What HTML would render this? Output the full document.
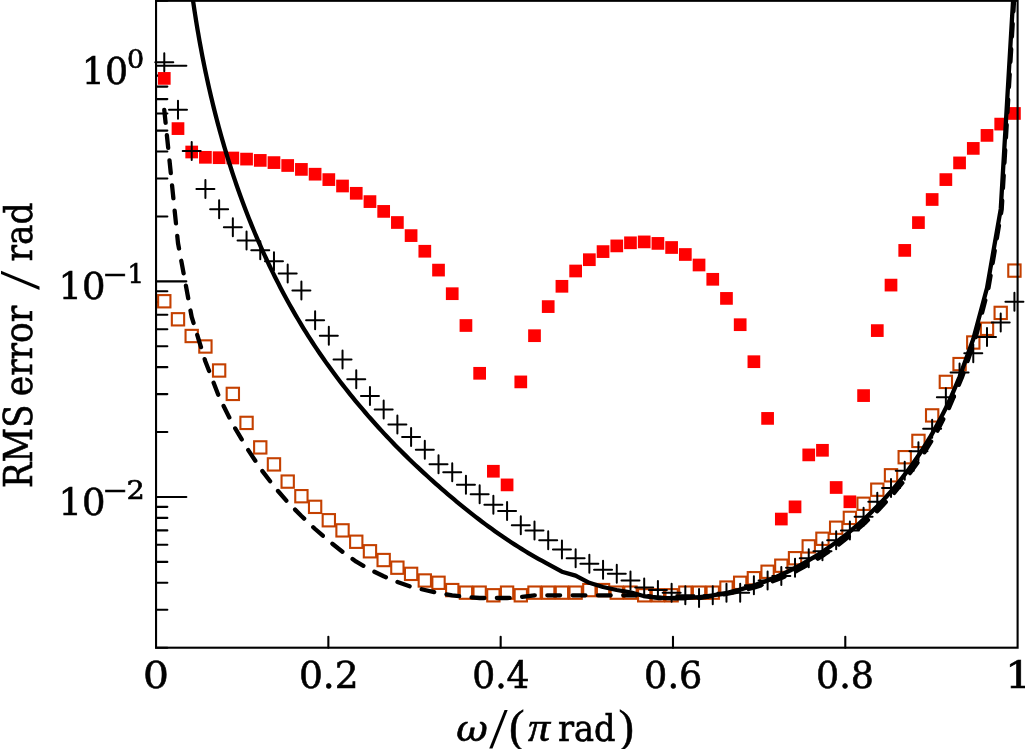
<!DOCTYPE html>
<html><head><meta charset="utf-8"><title>RMS error plot</title>
<style>html,body{margin:0;padding:0;background:#fff;overflow:hidden}svg{display:block}
text{fill:#000}</style></head><body>
<svg width="1025" height="749" viewBox="0 0 1025 749">
<rect width="1025" height="749" fill="#fff"/>
<defs><clipPath id="c"><rect x="156.05" y="0.8" width="861.55" height="646.9000000000001"/></clipPath></defs>
<g stroke="#000" stroke-width="2.1" stroke-linecap="round" fill="none">
<line x1="156.05" y1="65.71" x2="186.35" y2="65.71"/>
<line x1="156.05" y1="0.80" x2="167.35" y2="0.80"/>
<line x1="156.05" y1="281.35" x2="186.35" y2="281.35"/>
<line x1="156.05" y1="216.43" x2="167.35" y2="216.43"/>
<line x1="156.05" y1="178.46" x2="167.35" y2="178.46"/>
<line x1="156.05" y1="151.52" x2="167.35" y2="151.52"/>
<line x1="156.05" y1="130.62" x2="167.35" y2="130.62"/>
<line x1="156.05" y1="113.55" x2="167.35" y2="113.55"/>
<line x1="156.05" y1="99.11" x2="167.35" y2="99.11"/>
<line x1="156.05" y1="86.61" x2="167.35" y2="86.61"/>
<line x1="156.05" y1="75.58" x2="167.35" y2="75.58"/>
<line x1="156.05" y1="496.98" x2="186.35" y2="496.98"/>
<line x1="156.05" y1="432.07" x2="167.35" y2="432.07"/>
<line x1="156.05" y1="394.10" x2="167.35" y2="394.10"/>
<line x1="156.05" y1="367.15" x2="167.35" y2="367.15"/>
<line x1="156.05" y1="346.26" x2="167.35" y2="346.26"/>
<line x1="156.05" y1="329.18" x2="167.35" y2="329.18"/>
<line x1="156.05" y1="314.75" x2="167.35" y2="314.75"/>
<line x1="156.05" y1="302.24" x2="167.35" y2="302.24"/>
<line x1="156.05" y1="291.21" x2="167.35" y2="291.21"/>
<line x1="156.05" y1="647.70" x2="167.35" y2="647.70"/>
<line x1="156.05" y1="609.73" x2="167.35" y2="609.73"/>
<line x1="156.05" y1="582.79" x2="167.35" y2="582.79"/>
<line x1="156.05" y1="561.89" x2="167.35" y2="561.89"/>
<line x1="156.05" y1="544.82" x2="167.35" y2="544.82"/>
<line x1="156.05" y1="530.38" x2="167.35" y2="530.38"/>
<line x1="156.05" y1="517.88" x2="167.35" y2="517.88"/>
<line x1="156.05" y1="506.85" x2="167.35" y2="506.85"/>
<line x1="328.36" y1="647.7" x2="328.36" y2="636.70"/>
<line x1="500.67" y1="647.7" x2="500.67" y2="636.70"/>
<line x1="672.98" y1="647.7" x2="672.98" y2="636.70"/>
<line x1="845.29" y1="647.7" x2="845.29" y2="636.70"/>
</g>
<g fill="#ff0000">
<rect x="157.93" y="72.05" width="12.7" height="12.7"/>
<rect x="171.64" y="122.25" width="12.7" height="12.7"/>
<rect x="185.35" y="145.65" width="12.7" height="12.7"/>
<rect x="199.06" y="150.95" width="12.7" height="12.7"/>
<rect x="212.78" y="151.35" width="12.7" height="12.7"/>
<rect x="226.49" y="151.65" width="12.7" height="12.7"/>
<rect x="240.20" y="152.75" width="12.7" height="12.7"/>
<rect x="253.91" y="154.05" width="12.7" height="12.7"/>
<rect x="267.62" y="156.25" width="12.7" height="12.7"/>
<rect x="281.34" y="159.15" width="12.7" height="12.7"/>
<rect x="295.05" y="163.05" width="12.7" height="12.7"/>
<rect x="308.76" y="167.85" width="12.7" height="12.7"/>
<rect x="322.47" y="173.25" width="12.7" height="12.7"/>
<rect x="336.18" y="179.65" width="12.7" height="12.7"/>
<rect x="349.90" y="186.95" width="12.7" height="12.7"/>
<rect x="363.61" y="195.25" width="12.7" height="12.7"/>
<rect x="377.32" y="205.05" width="12.7" height="12.7"/>
<rect x="391.03" y="216.15" width="12.7" height="12.7"/>
<rect x="404.74" y="229.25" width="12.7" height="12.7"/>
<rect x="418.46" y="244.90" width="12.7" height="12.7"/>
<rect x="432.17" y="263.75" width="12.7" height="12.7"/>
<rect x="445.88" y="287.35" width="12.7" height="12.7"/>
<rect x="459.59" y="319.15" width="12.7" height="12.7"/>
<rect x="473.30" y="366.95" width="12.7" height="12.7"/>
<rect x="487.02" y="464.90" width="12.7" height="12.7"/>
<rect x="500.73" y="478.55" width="12.7" height="12.7"/>
<rect x="514.44" y="375.55" width="12.7" height="12.7"/>
<rect x="528.15" y="329.35" width="12.7" height="12.7"/>
<rect x="541.86" y="300.25" width="12.7" height="12.7"/>
<rect x="555.58" y="279.95" width="12.7" height="12.7"/>
<rect x="569.29" y="264.65" width="12.7" height="12.7"/>
<rect x="583.00" y="253.35" width="12.7" height="12.7"/>
<rect x="596.71" y="245.25" width="12.7" height="12.7"/>
<rect x="610.42" y="239.55" width="12.7" height="12.7"/>
<rect x="624.13" y="236.45" width="12.7" height="12.7"/>
<rect x="637.85" y="235.55" width="12.7" height="12.7"/>
<rect x="651.56" y="237.05" width="12.7" height="12.7"/>
<rect x="665.27" y="241.15" width="12.7" height="12.7"/>
<rect x="678.98" y="248.15" width="12.7" height="12.7"/>
<rect x="692.69" y="258.65" width="12.7" height="12.7"/>
<rect x="706.41" y="272.95" width="12.7" height="12.7"/>
<rect x="720.12" y="292.05" width="12.7" height="12.7"/>
<rect x="733.83" y="318.35" width="12.7" height="12.7"/>
<rect x="747.54" y="355.35" width="12.7" height="12.7"/>
<rect x="761.25" y="412.05" width="12.7" height="12.7"/>
<rect x="774.97" y="512.70" width="12.7" height="12.7"/>
<rect x="788.68" y="500.50" width="12.7" height="12.7"/>
<rect x="802.39" y="448.55" width="12.7" height="12.7"/>
<rect x="816.10" y="443.95" width="12.7" height="12.7"/>
<rect x="829.81" y="481.15" width="12.7" height="12.7"/>
<rect x="843.53" y="495.43" width="12.7" height="12.7"/>
<rect x="857.24" y="389.25" width="12.7" height="12.7"/>
<rect x="870.95" y="324.25" width="12.7" height="12.7"/>
<rect x="884.66" y="278.75" width="12.7" height="12.7"/>
<rect x="898.37" y="244.05" width="12.7" height="12.7"/>
<rect x="912.09" y="216.25" width="12.7" height="12.7"/>
<rect x="925.80" y="193.15" width="12.7" height="12.7"/>
<rect x="939.51" y="173.25" width="12.7" height="12.7"/>
<rect x="953.22" y="156.55" width="12.7" height="12.7"/>
<rect x="966.93" y="142.05" width="12.7" height="12.7"/>
<rect x="980.65" y="129.05" width="12.7" height="12.7"/>
<rect x="994.36" y="117.75" width="12.7" height="12.7"/>
<rect x="1008.07" y="107.10" width="12.7" height="12.7"/>
</g>
<g fill="#fff" stroke="#c44000" stroke-width="2.1">
<rect x="158.13" y="295.10" width="12.3" height="12.3"/>
<rect x="171.84" y="313.15" width="12.3" height="12.3"/>
<rect x="185.55" y="329.85" width="12.3" height="12.3"/>
<rect x="199.26" y="340.35" width="12.3" height="12.3"/>
<rect x="212.98" y="364.35" width="12.3" height="12.3"/>
<rect x="226.69" y="387.75" width="12.3" height="12.3"/>
<rect x="240.40" y="416.75" width="12.3" height="12.3"/>
<rect x="254.11" y="441.25" width="12.3" height="12.3"/>
<rect x="267.82" y="458.25" width="12.3" height="12.3"/>
<rect x="281.54" y="475.45" width="12.3" height="12.3"/>
<rect x="295.25" y="490.05" width="12.3" height="12.3"/>
<rect x="308.96" y="500.70" width="12.3" height="12.3"/>
<rect x="322.67" y="514.10" width="12.3" height="12.3"/>
<rect x="336.38" y="524.23" width="12.3" height="12.3"/>
<rect x="350.10" y="535.60" width="12.3" height="12.3"/>
<rect x="363.81" y="545.13" width="12.3" height="12.3"/>
<rect x="377.52" y="553.89" width="12.3" height="12.3"/>
<rect x="391.23" y="561.54" width="12.3" height="12.3"/>
<rect x="404.94" y="567.71" width="12.3" height="12.3"/>
<rect x="418.66" y="574.33" width="12.3" height="12.3"/>
<rect x="432.37" y="576.64" width="12.3" height="12.3"/>
<rect x="446.08" y="583.94" width="12.3" height="12.3"/>
<rect x="459.79" y="586.50" width="12.3" height="12.3"/>
<rect x="473.50" y="586.50" width="12.3" height="12.3"/>
<rect x="487.22" y="589.14" width="12.3" height="12.3"/>
<rect x="500.93" y="586.50" width="12.3" height="12.3"/>
<rect x="514.64" y="589.14" width="12.3" height="12.3"/>
<rect x="528.35" y="586.50" width="12.3" height="12.3"/>
<rect x="542.06" y="586.50" width="12.3" height="12.3"/>
<rect x="555.78" y="586.50" width="12.3" height="12.3"/>
<rect x="569.49" y="586.50" width="12.3" height="12.3"/>
<rect x="583.20" y="583.94" width="12.3" height="12.3"/>
<rect x="596.91" y="583.94" width="12.3" height="12.3"/>
<rect x="610.62" y="586.50" width="12.3" height="12.3"/>
<rect x="624.33" y="586.50" width="12.3" height="12.3"/>
<rect x="638.05" y="589.14" width="12.3" height="12.3"/>
<rect x="651.76" y="589.14" width="12.3" height="12.3"/>
<rect x="665.47" y="589.14" width="12.3" height="12.3"/>
<rect x="679.18" y="586.50" width="12.3" height="12.3"/>
<rect x="692.89" y="586.50" width="12.3" height="12.3"/>
<rect x="706.61" y="586.50" width="12.3" height="12.3"/>
<rect x="720.32" y="581.44" width="12.3" height="12.3"/>
<rect x="734.03" y="576.64" width="12.3" height="12.3"/>
<rect x="747.74" y="572.07" width="12.3" height="12.3"/>
<rect x="761.45" y="565.61" width="12.3" height="12.3"/>
<rect x="775.17" y="559.56" width="12.3" height="12.3"/>
<rect x="788.88" y="552.07" width="12.3" height="12.3"/>
<rect x="802.59" y="540.24" width="12.3" height="12.3"/>
<rect x="816.30" y="532.62" width="12.3" height="12.3"/>
<rect x="830.01" y="521.59" width="12.3" height="12.3"/>
<rect x="843.73" y="511.73" width="12.3" height="12.3"/>
<rect x="857.44" y="497.62" width="12.3" height="12.3"/>
<rect x="871.15" y="483.55" width="12.3" height="12.3"/>
<rect x="884.86" y="469.15" width="12.3" height="12.3"/>
<rect x="898.57" y="451.05" width="12.3" height="12.3"/>
<rect x="912.29" y="434.75" width="12.3" height="12.3"/>
<rect x="926.00" y="409.25" width="12.3" height="12.3"/>
<rect x="939.71" y="375.75" width="12.3" height="12.3"/>
<rect x="953.42" y="357.95" width="12.3" height="12.3"/>
<rect x="967.13" y="336.35" width="12.3" height="12.3"/>
<rect x="980.85" y="322.65" width="12.3" height="12.3"/>
<rect x="994.56" y="306.75" width="12.3" height="12.3"/>
<rect x="1008.27" y="264.45" width="12.3" height="12.3"/>
</g>
<path d="M155.28,62.15h18.0M164.28,53.15v18.0M168.99,109.70h18.0M177.99,100.70v18.0M182.70,151.10h18.0M191.70,142.10v18.0M196.41,189.00h18.0M205.41,180.00v18.0M210.13,209.30h18.0M219.13,200.30v18.0M223.84,227.30h18.0M232.84,218.30v18.0M237.55,240.50h18.0M246.55,231.50v18.0M251.26,250.30h18.0M260.26,241.30v18.0M264.97,261.25h18.0M273.97,252.25v18.0M278.69,273.40h18.0M287.69,264.40v18.0M292.40,290.60h18.0M301.40,281.60v18.0M306.11,320.30h18.0M315.11,311.30v18.0M319.82,335.80h18.0M328.82,326.80v18.0M333.53,359.40h18.0M342.53,350.40v18.0M347.25,379.20h18.0M356.25,370.20v18.0M360.96,396.10h18.0M369.96,387.10v18.0M374.67,409.50h18.0M383.67,400.50v18.0M388.38,424.40h18.0M397.38,415.40v18.0M402.09,437.00h18.0M411.09,428.00v18.0M415.81,449.70h18.0M424.81,440.70v18.0M429.52,464.20h18.0M438.52,455.20v18.0M443.23,472.30h18.0M452.23,463.30v18.0M456.94,484.80h18.0M465.94,475.80v18.0M470.65,494.20h18.0M479.65,485.20v18.0M484.37,504.79h18.0M493.37,495.79v18.0M498.08,511.10h18.0M507.08,502.10v18.0M511.79,525.18h18.0M520.79,516.18v18.0M525.50,530.38h18.0M534.50,521.38v18.0M539.21,540.25h18.0M548.21,531.25v18.0M552.93,549.62h18.0M561.93,540.62v18.0M566.64,558.22h18.0M575.64,549.22v18.0M580.35,563.78h18.0M589.35,554.78v18.0M594.06,569.70h18.0M603.06,560.70v18.0M607.77,573.86h18.0M616.77,564.86v18.0M621.48,580.48h18.0M630.48,571.48v18.0M635.20,587.59h18.0M644.20,578.59v18.0M648.91,590.09h18.0M657.91,581.09v18.0M662.62,592.65h18.0M671.62,583.65v18.0M676.33,595.29h18.0M685.33,586.29v18.0M690.04,598.01h18.0M699.04,589.01v18.0M703.76,595.29h18.0M712.76,586.29v18.0M717.47,592.65h18.0M726.47,583.65v18.0M731.18,592.65h18.0M740.18,583.65v18.0M744.89,585.16h18.0M753.89,576.16v18.0M758.60,580.48h18.0M767.60,571.48v18.0M772.32,576.02h18.0M781.32,567.02v18.0M786.03,567.69h18.0M795.03,558.69v18.0M799.74,558.22h18.0M808.74,549.22v18.0M813.45,551.28h18.0M822.45,542.28v18.0M827.16,540.25h18.0M836.16,531.25v18.0M840.88,530.38h18.0M849.88,521.38v18.0M854.59,516.71h18.0M863.59,507.71v18.0M868.30,501.78h18.0M877.30,492.78v18.0M882.01,488.00h18.0M891.01,479.00v18.0M895.72,470.80h18.0M904.72,461.80v18.0M909.44,451.25h18.0M918.44,442.25v18.0M923.15,428.75h18.0M932.15,419.75v18.0M936.86,397.30h18.0M945.86,388.30v18.0M950.57,372.50h18.0M959.57,363.50v18.0M964.28,353.30h18.0M973.28,344.30v18.0M978.00,336.90h18.0M987.00,327.90v18.0M991.71,322.60h18.0M1000.71,313.60v18.0M1005.42,301.80h18.0M1014.42,292.80v18.0" stroke="#000" stroke-width="2" stroke-linecap="round" fill="none"/>
<g clip-path="url(#c)" fill="none" stroke="#000" stroke-width="4.3" stroke-linejoin="round">
<path d="M164.28,110.00 L177.99,243.00 L191.70,317.00 L205.41,361.50 L219.13,397.00 L232.84,424.50 L246.55,447.50 L260.26,468.30 L273.97,486.30 L287.69,502.20 L301.40,516.00 L315.11,529.00 L328.82,541.00 L342.53,551.80 L356.25,561.70 L369.96,569.50 L383.67,576.30 L397.38,582.00 L411.09,586.70 L424.81,590.00 L438.52,593.00 L452.23,595.30 L465.94,597.00 L479.65,598.00 L493.37,598.00 L507.08,598.00 L520.79,597.00 L534.50,595.30 L548.21,595.30 L561.93,595.30 L575.64,595.30 L589.35,595.30 L603.06,595.30 L616.77,595.30 L630.48,595.30 L644.20,595.30 L657.91,598.00 L671.62,598.00 L685.33,598.00 L699.04,598.00 L712.86,596.04 L726.70,593.99 L740.61,591.12 L754.56,587.43 L768.55,582.87 L782.60,577.44 L796.61,570.94 L810.47,563.25 L824.33,554.58 L838.19,544.88 L852.03,534.08 L865.89,522.03 L879.73,508.62 L893.58,493.61 L907.42,476.70 L921.26,457.47 L935.03,435.31 L948.42,409.27 L961.80,377.73 L975.12,339.61 L988.41,288.31 L1001.70,209.33 L1015.40,-22.00" stroke-dasharray="12.8 12.5" stroke-linecap="round"/>
<path d="M192.66,-2.01 L193.22,1.93 L193.80,5.87 L194.39,9.81 L194.99,13.76 L195.60,17.70 L196.23,21.64 L196.88,25.58 L197.54,29.52 L198.21,33.45 L198.89,37.39 L199.59,41.33 L200.31,45.26 L201.04,49.19 L201.78,53.12 L202.54,57.05 L203.32,60.98 L204.10,64.90 L204.91,68.82 L205.73,72.74 L206.56,76.66 L207.41,80.57 L208.27,84.48 L209.15,88.39 L210.05,92.29 L210.96,96.20 L211.89,100.09 L212.83,103.99 L213.79,107.88 L214.76,111.77 L215.75,115.65 L216.76,119.53 L217.78,123.40 L218.82,127.27 L219.88,131.13 L220.95,134.99 L222.04,138.85 L223.14,142.70 L224.27,146.54 L225.41,150.38 L226.56,154.22 L227.74,158.05 L228.93,161.87 L230.13,165.69 L231.36,169.50 L232.60,173.30 L233.86,177.10 L235.14,180.89 L236.44,184.68 L237.75,188.45 L239.08,192.23 L240.43,195.99 L241.80,199.75 L243.19,203.50 L244.59,207.24 L246.02,210.97 L247.46,214.70 L248.92,218.42 L250.40,222.13 L251.89,225.83 L253.41,229.53 L254.95,233.22 L256.50,236.89 L258.08,240.56 L259.67,244.22 L261.28,247.87 L262.91,251.51 L264.56,255.15 L266.24,258.77 L267.93,262.38 L269.64,265.99 L271.37,269.58 L273.12,273.16 L274.89,276.74 L276.68,280.30 L278.49,283.85 L280.32,287.40 L282.17,290.93 L284.05,294.45 L285.94,297.96 L287.85,301.46 L289.79,304.94 L291.74,308.42 L293.72,311.88 L295.72,315.34 L297.74,318.78 L299.78,322.20 L301.84,325.62 L303.93,329.02 L306.03,332.42 L308.16,335.79 L310.31,339.16 L312.48,342.51 L314.67,345.85 L316.88,349.18 L319.12,352.50 L321.38,355.80 L323.66,359.08 L325.96,362.36 L328.29,365.61 L330.64,368.86 L333.00,372.09 L335.39,375.31 L337.80,378.51 L340.23,381.70 L342.68,384.87 L345.15,388.03 L347.64,391.18 L350.14,394.31 L352.66,397.42 L355.20,400.52 L357.76,403.60 L360.33,406.67 L362.92,409.73 L365.52,412.76 L368.14,415.79 L370.77,418.79 L373.42,421.78 L376.09,424.76 L378.77,427.72 L381.46,430.66 L384.17,433.59 L386.90,436.50 L389.64,439.39 L392.40,442.27 L395.17,445.13 L397.96,447.97 L400.76,450.79 L403.59,453.60 L406.42,456.40 L409.27,459.18 L412.14,461.94 L415.02,464.69 L417.92,467.42 L420.83,470.14 L423.76,472.84 L426.70,475.54 L429.65,478.22 L432.62,480.88 L435.60,483.54 L438.60,486.18 L441.61,488.81 L444.63,491.43 L447.67,494.03 L450.72,496.63 L453.78,499.21 L456.86,501.78 L459.95,504.33 L463.06,506.86 L466.18,509.38 L469.31,511.89 L472.46,514.37 L475.63,516.84 L478.81,519.28 L482.00,521.71 L485.21,524.11 L488.44,526.49 L491.68,528.85 L494.93,531.18 L498.21,533.49 L501.50,535.78 L504.80,538.04 L508.12,540.27 L511.46,542.47 L514.81,544.65 L518.19,546.80 L521.57,548.91 L524.98,551.00 L528.40,553.05 L531.84,555.07 L535.30,557.06 L538.78,559.02 L542.27,560.93 L545.79,562.82 L561.90,571.70 L575.60,575.60 L589.30,582.80 L603.00,587.00 L616.70,590.00 L630.40,592.30 L643.53,596.04 L647.50,596.55 L651.49,596.99 L655.49,597.37 L659.49,597.67 L663.50,597.91 L667.52,598.09 L671.53,598.19 L675.55,598.23 L679.57,598.20 L683.58,598.11 L687.58,597.95 L691.59,597.72 L695.58,597.43 L699.56,597.07 L703.53,596.64 L707.49,596.15 L711.43,595.60 L715.36,594.98 L719.28,594.30 L723.19,593.56 L727.07,592.75 L730.95,591.88 L734.81,590.95 L738.65,589.97 L742.48,588.92 L746.28,587.81 L750.08,586.65 L753.85,585.43 L757.61,584.15 L761.35,582.82 L765.07,581.43 L768.77,579.99 L772.45,578.49 L776.11,576.94 L779.75,575.34 L783.37,573.69 L786.96,571.98 L790.54,570.23 L794.09,568.42 L797.62,566.57 L801.13,564.67 L804.62,562.72 L808.08,560.72 L811.51,558.68 L814.93,556.59 L818.31,554.45 L821.67,552.27 L825.01,550.05 L828.32,547.78 L831.60,545.47 L834.85,543.12 L838.08,540.73 L841.28,538.30 L844.45,535.83 L847.59,533.32 L850.70,530.77 L853.79,528.18 L856.84,525.56 L859.86,522.90 L862.85,520.21 L865.81,517.48 L868.74,514.71 L871.64,511.91 L874.50,509.08 L877.33,506.22 L880.12,503.32 L882.89,500.39 L885.61,497.44 L888.31,494.45 L890.97,491.43 L893.59,488.39 L896.18,485.32 L898.73,482.22 L901.24,479.10 L903.71,475.94 L906.15,472.77 L908.56,469.57 L910.92,466.34 L913.25,463.10 L915.54,459.82 L917.80,456.53 L920.02,453.21 L922.21,449.87 L924.36,446.51 L926.47,443.13 L928.55,439.72 L930.60,436.30 L932.61,432.85 L934.59,429.39 L936.53,425.91 L938.44,422.40 L940.32,418.88 L942.17,415.35 L943.98,411.79 L945.76,408.22 L947.51,404.63 L949.22,401.02 L950.91,397.40 L959.60,376.80 L973.30,339.00 L987.00,288.00 L1000.75,209.00 L1014.40,-22.00"/>
</g>
<rect x="156.05" y="0.8" width="861.55" height="646.9000000000001" fill="none" stroke="#000" stroke-width="2.1"/>
<g stroke="#000">
<text transform="translate(142.97,688.20) scale(1.0821,1.0000)" font-family="'DejaVu Serif','Liberation Serif',serif" font-size="37.70" stroke-width="0.6">0</text>
<text transform="translate(298.96,688.20) scale(0.9972,1.0000)" font-family="'DejaVu Serif','Liberation Serif',serif" font-size="37.70" stroke-width="0.6">0.2</text>
<text transform="translate(472.14,688.20) scale(0.9589,1.0000)" font-family="'DejaVu Serif','Liberation Serif',serif" font-size="37.70" stroke-width="0.6">0.4</text>
<text transform="translate(644.11,688.20) scale(0.9712,1.0000)" font-family="'DejaVu Serif','Liberation Serif',serif" font-size="37.70" stroke-width="0.6">0.6</text>
<text transform="translate(816.02,688.20) scale(0.9694,1.0000)" font-family="'DejaVu Serif','Liberation Serif',serif" font-size="37.70" stroke-width="0.6">0.8</text>
<text transform="translate(1004.96,688.20) scale(1.1390,1.0000)" font-family="'DejaVu Serif','Liberation Serif',serif" font-size="37.70" stroke-width="0.6">1</text>
<text transform="translate(81.80,84.00) scale(0.9639,1.0000)" font-family="'DejaVu Serif','Liberation Serif',serif" font-size="37.70" stroke-width="0.6">10</text>
<text transform="translate(127.12,68.10) scale(1.0566,1.0000)" font-family="'DejaVu Serif','Liberation Serif',serif" font-size="25.50" stroke-width="0.6">0</text>
<text transform="translate(58.43,299.30) scale(0.9807,1.0000)" font-family="'DejaVu Serif','Liberation Serif',serif" font-size="37.70" stroke-width="0.6">10</text>
<text transform="translate(101.98,283.00) scale(1.2061,1.0000)" font-family="'DejaVu Serif','Liberation Serif',serif" font-size="25.50" stroke-width="0.6">−</text>
<text transform="translate(127.38,283.00) scale(1.0244,1.0000)" font-family="'DejaVu Serif','Liberation Serif',serif" font-size="25.50" stroke-width="0.6">1</text>
<text transform="translate(58.43,514.80) scale(0.9807,1.0000)" font-family="'DejaVu Serif','Liberation Serif',serif" font-size="37.70" stroke-width="0.6">10</text>
<text transform="translate(101.97,498.60) scale(1.2121,1.0000)" font-family="'DejaVu Serif','Liberation Serif',serif" font-size="25.50" stroke-width="0.6">−</text>
<text transform="translate(126.51,498.60) scale(1.1280,1.0000)" font-family="'DejaVu Serif','Liberation Serif',serif" font-size="25.50" stroke-width="0.6">2</text>
<text transform="translate(456.24,741.20) scale(1.0595,1.0000)" font-family="'DejaVu Serif','Liberation Serif',serif" font-style="italic" font-size="36.57" stroke-width="0.6">ω</text>
<text transform="translate(489.30,747.82) scale(1.7619,1.5200)" font-family="'Liberation Serif','DejaVu Serif',serif" font-size="37.70" stroke-width="0">/</text>
<text transform="translate(509.04,742.46) scale(1.2400,1.2173)" font-family="'Liberation Serif','DejaVu Serif',serif" font-size="37.70" stroke-width="0.4">(</text>
<text transform="translate(528.00,740.90) scale(1.0472,1.0000)" font-family="'Liberation Serif','DejaVu Serif',serif" font-style="italic" font-size="42.00" stroke-width="0.6">π</text>
<text transform="translate(558.01,740.90) scale(0.9912,1.0000)" font-family="'DejaVu Serif Condensed','DejaVu Serif','Liberation Serif',serif" font-size="37.70" stroke-width="0.6">rad</text>
<text transform="translate(618.46,742.46) scale(1.2400,1.2173)" font-family="'Liberation Serif','DejaVu Serif',serif" font-size="37.70" stroke-width="0.4">)</text>
<text transform="translate(31.60,488.07) rotate(-90) scale(0.9562,1.0000)" font-family="'DejaVu Serif Condensed','DejaVu Serif','Liberation Serif',serif" font-size="39.40" stroke-width="0.6">RMS</text>
<text transform="translate(31.60,396.26) rotate(-90) scale(0.9728,1.0000)" font-family="'DejaVu Serif Condensed','DejaVu Serif','Liberation Serif',serif" font-size="39.40" stroke-width="0.6">error</text>
<text transform="translate(38.54,290.00) rotate(-90) scale(1.7674,1.4476)" font-family="'Liberation Serif','DejaVu Serif',serif" font-size="39.40" stroke-width="0">/</text>
<text transform="translate(31.60,261.47) rotate(-90) scale(0.9712,1.0000)" font-family="'DejaVu Serif Condensed','DejaVu Serif','Liberation Serif',serif" font-size="39.40" stroke-width="0.6">rad</text>
</g>
</svg></body></html>
